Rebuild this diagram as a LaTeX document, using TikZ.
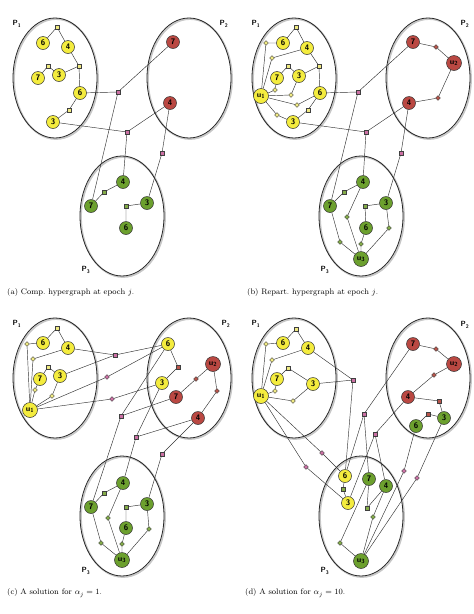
\documentclass[tikz,border=0pt]{standalone}
\usepackage{tikz}
\usepackage{xcolor}

\definecolor{vyel}{RGB}{244,236,62}
\definecolor{vred}{RGB}{186,72,66}
\definecolor{vgrn}{RGB}{108,160,46}
\definecolor{nyel}{RGB}{240,234,130}
\definecolor{ngrn}{RGB}{132,172,72}
\definecolor{nred}{RGB}{184,84,74}
\definecolor{npink}{RGB}{204,112,164}

\newcommand{\plab}[1]{P\textsubscript{#1}}
\newcommand{\ulab}[1]{u\textsubscript{#1}}

\begin{document}
\begin{tikzpicture}[
    x=1pt,
    y=-1pt,
    part/.style={draw=black!85, line width=0.8pt},
    partshadow/.style={draw=black!22, line width=1.8pt},
    plabel/.style={inner sep=0pt, font=\sffamily\bfseries\fontsize{7.5}{8}\selectfont},
    vertex/.style={
        circle,
        draw=black!80,
        line width=0.5pt,
        minimum size=13pt,
        inner sep=0pt,
        font=\sffamily\bfseries\fontsize{8}{9}\selectfont
    },
    yv/.style={vertex, fill=vyel},
    rv/.style={vertex, fill=vred},
    gv/.style={vertex, fill=vgrn},
    uvert/.style={minimum size=15pt},
    netbox/.style={
        rectangle,
        draw=black!75,
        line width=0.4pt,
        minimum size=3.6pt,
        inner sep=0pt
    },
    netdiam/.style={netbox, rotate=45, minimum size=3.4pt},
    yn/.style={fill=nyel},
    gn/.style={fill=ngrn},
    rn/.style={fill=nred},
    cn/.style={fill=npink},
    link/.style={draw=black!80, line width=0.45pt},
    caption/.style={anchor=west, inner sep=0pt, font=\fontsize{8}{10}\selectfont}
]

\useasboundingbox (0,0) rectangle (474,614);


% (a)
\begin{scope}
\draw[partshadow] (56,79) ellipse (42pt and 60pt);
\draw[part] (55,78) ellipse (42pt and 60pt);
\draw[partshadow] (190,79) ellipse (42pt and 60pt);
\draw[part] (189,78) ellipse (42pt and 60pt);
\draw[partshadow] (123,217) ellipse (42pt and 60pt);
\draw[part] (122,216) ellipse (42pt and 60pt);

\node[plabel] (a-p1) at (17,24) {\plab{1}};
\node[plabel] (a-p2) at (224,24) {\plab{2}};
\node[plabel] (a-p3) at (86,270) {\plab{3}};

\node[yv] (a-y6) at (43,43) {6};
\node[yv] (a-y4) at (68,47) {4};
\node[yv] (a-y7) at (38,78) {7};
\node[yv] (a-y3) at (59,75) {3};
\node[yv] (a-y6b) at (80,93) {6};
\node[yv] (a-y3b) at (53,122) {3};
\node[rv] (a-r7) at (173,42) {7};
\node[rv] (a-r4) at (170,103) {4};
\node[gv] (a-g4) at (123,182) {4};
\node[gv] (a-g7) at (91,206) {7};
\node[gv] (a-g3) at (147,203) {3};
\node[gv] (a-g6) at (126,228) {6};

\node[netbox, yn] (a-n1) at (57,27) {};
\node[netbox, yn] (a-n2) at (79,66) {};
\node[netbox, yn] (a-n3) at (48,66) {};
\node[netbox, yn] (a-n4) at (69,110) {};
\node[netbox, gn] (a-n5) at (104,192) {};
\node[netbox, gn] (a-n6) at (126,206) {};
\node[netbox, cn] (a-c1) at (118,92) {};
\node[netbox, cn] (a-c2) at (127,132) {};
\node[netbox, cn] (a-c3) at (162,153) {};

\draw[link] (a-n1) -- (a-y6) (a-n1) -- (a-y4);
\draw[link] (a-n2) -- (a-y4) (a-n2) -- (a-y3) (a-n2) -- (a-y6b);
\draw[link] (a-n3) -- (a-y7) (a-n3) -- (a-y3);
\draw[link] (a-n4) -- (a-y6b) (a-n4) -- (a-y3b);
\draw[link] (a-n5) -- (a-g4) (a-n5) -- (a-g7);
\draw[link] (a-n6) -- (a-g3) (a-n6) -- (a-g6);
\draw[link] (a-c1) -- (a-y6b) (a-c1) -- (a-r7) (a-c1) -- (a-g7);
\draw[link] (a-c2) -- (a-y3b) (a-c2) -- (a-r4) (a-c2) -- (a-g4);
\draw[link] (a-c3) -- (a-r4) (a-c3) -- (a-g3);

\node[caption] (a-cap) at (7,292) {(a) Comp.\ hypergraph at epoch $j$.};
\end{scope}


% (b)
\begin{scope}[shift={(239,0)}]
\draw[partshadow] (56,79) ellipse (42pt and 60pt);
\draw[part] (55,78) ellipse (42pt and 60pt);
\draw[partshadow] (190,79) ellipse (42pt and 60pt);
\draw[part] (189,78) ellipse (42pt and 60pt);
\draw[partshadow] (123,217) ellipse (42pt and 60pt);
\draw[part] (122,216) ellipse (42pt and 60pt);

\node[plabel] (b-p1) at (17,24) {\plab{1}};
\node[plabel] (b-p2) at (226,24) {\plab{2}};
\node[plabel] (b-p3) at (86,270) {\plab{3}};

\node[yv] (b-y6) at (44,43) {6};
\node[yv] (b-y4) at (68,48) {4};
\node[yv] (b-y7) at (38,78) {7};
\node[yv] (b-y3) at (60,76) {3};
\node[yv] (b-y6b) at (81,93) {6};
\node[yv] (b-y3b) at (54,122) {3};
\node[yv, uvert] (b-u1) at (22,96) {\ulab{1}};
\node[rv] (b-r7) at (174,42) {7};
\node[rv, uvert] (b-u2) at (215,63) {\ulab{2}};
\node[rv] (b-r4) at (170,103) {4};
\node[gv] (b-g4) at (124,182) {4};
\node[gv] (b-g7) at (91,206) {7};
\node[gv] (b-g3) at (147,203) {3};
\node[gv] (b-g6) at (127,228) {6};
\node[gv, uvert] (b-u3) at (122,259) {\ulab{3}};

\node[netbox, yn] (b-n1) at (57,27) {};
\node[netbox, yn] (b-n2) at (80,66) {};
\node[netbox, yn] (b-n3) at (49,66) {};
\node[netbox, yn] (b-n4) at (69,110) {};
\node[netdiam, yn] (b-d1) at (27,43) {};
\node[netdiam, yn] (b-d2) at (33,58) {};
\node[netdiam, yn] (b-d3) at (36,90) {};
\node[netdiam, yn] (b-d4) at (52,95) {};
\node[netdiam, yn] (b-d5) at (58,105) {};
\node[netdiam, yn] (b-d6) at (38,115) {};
\node[netdiam, rn] (b-d7) at (197,47) {};
\node[netdiam, rn] (b-d8) at (199,98) {};
\node[netbox, gn] (b-n5) at (105,192) {};
\node[netbox, gn] (b-n6) at (126,206) {};
\node[netdiam, gn] (b-d9) at (108,217) {};
\node[netdiam, gn] (b-d10) at (101,242) {};
\node[netdiam, gn] (b-d11) at (122,244) {};
\node[netdiam, gn] (b-d12) at (150,228) {};
\node[netbox, cn] (b-c1) at (119,92) {};
\node[netbox, cn] (b-c2) at (127,132) {};
\node[netbox, cn] (b-c3) at (162,153) {};

\draw[link] (b-n1) -- (b-y6) (b-n1) -- (b-y4);
\draw[link] (b-n2) -- (b-y4) (b-n2) -- (b-y3) (b-n2) -- (b-y6b);
\draw[link] (b-n3) -- (b-y7) (b-n3) -- (b-y3);
\draw[link] (b-n4) -- (b-y6b) (b-n4) -- (b-y3b);
\draw[link] (b-d1) -- (b-u1) (b-d1) -- (b-y6);
\draw[link] (b-d2) -- (b-u1) (b-d2) -- (b-y4);
\draw[link] (b-d3) -- (b-u1) (b-d3) -- (b-y7);
\draw[link] (b-d4) -- (b-u1) (b-d4) -- (b-y3);
\draw[link] (b-d5) -- (b-u1) (b-d5) -- (b-y6b);
\draw[link] (b-d6) -- (b-u1) (b-d6) -- (b-y3b);
\draw[link] (b-d7) -- (b-r7) (b-d7) -- (b-u2);
\draw[link] (b-d8) -- (b-r4) (b-d8) -- (b-u2);
\draw[link] (b-n5) -- (b-g4) (b-n5) -- (b-g7);
\draw[link] (b-n6) -- (b-g3) (b-n6) -- (b-g6);
\draw[link] (b-d9) -- (b-g4) (b-d9) -- (b-u3);
\draw[link] (b-d10) -- (b-g7) (b-d10) -- (b-u3);
\draw[link] (b-d11) -- (b-g6) (b-d11) -- (b-u3);
\draw[link] (b-d12) -- (b-g3) (b-d12) -- (b-u3);
\draw[link] (b-c1) -- (b-y6b) (b-c1) -- (b-r7) (b-c1) -- (b-g7);
\draw[link] (b-c2) -- (b-y3b) (b-c2) -- (b-r4) (b-c2) -- (b-g4);
\draw[link] (b-c3) -- (b-r4) (b-c3) -- (b-g3);

\node[caption] (b-cap) at (8,292) {(b) Repart.\ hypergraph at epoch $j$.};
\end{scope}


% (c)
\begin{scope}[shift={(0,300)}]
\draw[partshadow] (56,79) ellipse (42pt and 60pt);
\draw[part] (55,78) ellipse (42pt and 60pt);
\draw[partshadow] (190,79) ellipse (42pt and 60pt);
\draw[part] (189,78) ellipse (42pt and 60pt);
\draw[partshadow] (123,217) ellipse (42pt and 60pt);
\draw[part] (122,216) ellipse (42pt and 60pt);

\node[plabel] (c-p1) at (17,24) {\plab{1}};
\node[plabel] (c-p2) at (226,24) {\plab{2}};
\node[plabel] (c-p3) at (86,271) {\plab{3}};

\node[yv] (c-y6) at (43,43) {6};
\node[yv] (c-y4) at (68,48) {4};
\node[yv] (c-y7) at (40,79) {7};
\node[yv] (c-y3) at (60,76) {3};
\node[yv, uvert] (c-u1) at (30,110) {\ulab{1}};
\node[yv] (c-y6b) at (168,44) {6};
\node[yv] (c-y3b) at (162,83) {3};
\node[rv] (c-r7) at (176,97) {7};
\node[rv, uvert] (c-u2) at (213,64) {\ulab{2}};
\node[rv] (c-r4) at (198,118) {4};
\node[gv] (c-g4) at (123,183) {4};
\node[gv] (c-g7) at (91,207) {7};
\node[gv] (c-g3) at (147,204) {3};
\node[gv] (c-g6) at (126,228) {6};
\node[gv, uvert] (c-u3) at (122,260) {\ulab{3}};

\node[netbox, yn] (c-n1) at (57,28) {};
\node[netbox, yn] (c-n3) at (48,67) {};
\node[netdiam, yn] (c-d1) at (27,44) {};
\node[netdiam, yn] (c-d2) at (33,59) {};
\node[netdiam, yn] (c-d3) at (35,90) {};
\node[netdiam, yn] (c-d4) at (52,96) {};
\node[netbox, rn] (c-n4) at (178,67) {};
\node[netdiam, rn] (c-d7) at (196,79) {};
\node[netdiam, rn] (c-d8) at (217,91) {};
\node[netbox, gn] (c-n5) at (104,193) {};
\node[netbox, gn] (c-n6) at (126,207) {};
\node[netdiam, gn] (c-d9) at (108,218) {};
\node[netdiam, gn] (c-d10) at (101,243) {};
\node[netdiam, gn] (c-d11) at (122,244) {};
\node[netdiam, gn] (c-d12) at (149,229) {};
\node[netbox, cn] (c-c4) at (115,55) {};
\node[netdiam, cn] (c-c5) at (107,77) {};
\node[netdiam, cn] (c-c6) at (112,99) {};
\node[netbox, cn] (c-c1) at (121,116) {};
\node[netbox, cn] (c-c2) at (136,137) {};
\node[netbox, cn] (c-c3) at (162,154) {};

\draw[link] (c-n1) -- (c-y6) (c-n1) -- (c-y4);
\draw[link] (c-n3) -- (c-y7) (c-n3) -- (c-y3);
\draw[link] (c-d1) -- (c-u1) (c-d1) -- (c-y6);
\draw[link] (c-d2) -- (c-u1) (c-d2) -- (c-y4);
\draw[link] (c-d3) -- (c-u1) (c-d3) -- (c-y7);
\draw[link] (c-d4) -- (c-u1) (c-d4) -- (c-y3);
\draw[link] (c-n4) -- (c-y6b) (c-n4) -- (c-y3b);
\draw[link] (c-d7) -- (c-r7) (c-d7) -- (c-u2);
\draw[link] (c-d8) -- (c-r4) (c-d8) -- (c-u2);
\draw[link] (c-n5) -- (c-g4) (c-n5) -- (c-g7);
\draw[link] (c-n6) -- (c-g3) (c-n6) -- (c-g6);
\draw[link] (c-d9) -- (c-g4) (c-d9) -- (c-u3);
\draw[link] (c-d10) -- (c-g7) (c-d10) -- (c-u3);
\draw[link] (c-d11) -- (c-g6) (c-d11) -- (c-u3);
\draw[link] (c-d12) -- (c-g3) (c-d12) -- (c-u3);
\draw[link] (c-c4) -- (c-y4) (c-c4) -- (c-y3) (c-c4) -- (c-y6b);
\draw[link] (c-c5) -- (c-u1) (c-c5) -- (c-y6b);
\draw[link] (c-c6) -- (c-u1) (c-c6) -- (c-y3b);
\draw[link] (c-c1) -- (c-y6b) (c-c1) -- (c-r7) (c-c1) -- (c-g7);
\draw[link] (c-c2) -- (c-y3b) (c-c2) -- (c-r4) (c-c2) -- (c-g4);
\draw[link] (c-c3) -- (c-r4) (c-c3) -- (c-g3);

\node[caption] (c-cap) at (7,293) {(c) A solution for $\alpha_j = 1$.};
\end{scope}


% (d)
\begin{scope}[shift={(239,300)}]
\draw[partshadow] (56,79) ellipse (42pt and 60pt);
\draw[part] (55,78) ellipse (42pt and 60pt);
\draw[partshadow] (190,79) ellipse (42pt and 60pt);
\draw[part] (189,78) ellipse (42pt and 60pt);
\draw[partshadow] (123,217) ellipse (42pt and 60pt);
\draw[part] (122,216) ellipse (42pt and 60pt);

\node[plabel] (d-p1) at (17,24) {\plab{1}};
\node[plabel] (d-p2) at (226,25) {\plab{2}};
\node[plabel] (d-p3) at (86,271) {\plab{3}};

\node[yv] (d-y6) at (44,43) {6};
\node[yv] (d-y4) at (69,48) {4};
\node[yv] (d-y7) at (38,79) {7};
\node[yv] (d-y3) at (74,84) {3};
\node[yv, uvert] (d-u1) at (22,96) {\ulab{1}};
\node[rv] (d-r7) at (174,44) {7};
\node[rv, uvert] (d-u2) at (215,64) {\ulab{2}};
\node[rv] (d-r4) at (169,97) {4};
\node[gv] (d-g3) at (205,118) {3};
\node[gv] (d-g6) at (177,126) {6};
\node[yv] (d-y6b) at (106,176) {6};
\node[yv] (d-y3b) at (109,203) {3};
\node[gv] (d-g7) at (130,179) {7};
\node[gv] (d-g4) at (147,186) {4};
\node[gv, uvert] (d-u3) at (122,261) {\ulab{3}};

\node[netbox, yn] (d-n1) at (57,29) {};
\node[netbox, yn] (d-n3) at (49,68) {};
\node[netdiam, yn] (d-d1) at (27,44) {};
\node[netdiam, yn] (d-d2) at (33,60) {};
\node[netdiam, yn] (d-d3) at (36,91) {};
\node[netdiam, yn] (d-d4) at (54,101) {};
\node[netdiam, rn] (d-d7) at (197,49) {};
\node[netdiam, rn] (d-d8) at (195,75) {};
\node[netbox, rn] (d-n7) at (200,101) {};
\node[netbox, rn] (d-n6) at (189,114) {};
\node[netbox, gn] (d-n4) at (104,189) {};
\node[netbox, gn] (d-n5) at (128,208) {};
\node[netdiam, gn] (d-d9) at (134,217) {};
\node[netdiam, gn] (d-d10) at (101,243) {};
\node[netbox, cn] (d-c4) at (114,80) {};
\node[netdiam, cn] (d-c5) at (83,153) {};
\node[netdiam, cn] (d-c6) at (67,167) {};
\node[netbox, cn] (d-c1) at (125,114) {};
\node[netbox, cn] (d-c2) at (136,134) {};
\node[netdiam, cn] (d-c7) at (165,171) {};
\node[netdiam, cn] (d-c8) at (178,178) {};

\draw[link] (d-n1) -- (d-y6) (d-n1) -- (d-y4);
\draw[link] (d-n3) -- (d-y7) (d-n3) -- (d-y3);
\draw[link] (d-d1) -- (d-u1) (d-d1) -- (d-y6);
\draw[link] (d-d2) -- (d-u1) (d-d2) -- (d-y4);
\draw[link] (d-d3) -- (d-u1) (d-d3) -- (d-y7);
\draw[link] (d-d4) -- (d-u1) (d-d4) -- (d-y3);
\draw[link] (d-d7) -- (d-r7) (d-d7) -- (d-u2);
\draw[link] (d-d8) -- (d-r4) (d-d8) -- (d-u2);
\draw[link] (d-n7) -- (d-r4) (d-n7) -- (d-g3);
\draw[link] (d-n6) -- (d-g3) (d-n6) -- (d-g6);
\draw[link] (d-n4) -- (d-y6b) (d-n4) -- (d-y3b);
\draw[link] (d-n5) -- (d-g7) (d-n5) -- (d-g4);
\draw[link] (d-d9) -- (d-g4) (d-d9) -- (d-u3);
\draw[link] (d-d10) -- (d-g7) (d-d10) -- (d-u3);
\draw[link] (d-c4) -- (d-y4) (d-c4) -- (d-y3) (d-c4) -- (d-y6b);
\draw[link] (d-c5) -- (d-u1) (d-c5) -- (d-y6b);
\draw[link] (d-c6) -- (d-u1) (d-c6) -- (d-y3b);
\draw[link] (d-c1) -- (d-r7) (d-c1) -- (d-y6b) (d-c1) -- (d-g7);
\draw[link] (d-c2) -- (d-r4) (d-c2) -- (d-y3b) (d-c2) -- (d-g4);
\draw[link] (d-c7) -- (d-g6) (d-c7) -- (d-u3);
\draw[link] (d-c8) -- (d-g3) (d-c8) -- (d-u3);

\node[caption] (d-cap) at (6,293) {(d) A solution for $\alpha_j = 10$.};
\end{scope}

\end{tikzpicture}
\end{document}
